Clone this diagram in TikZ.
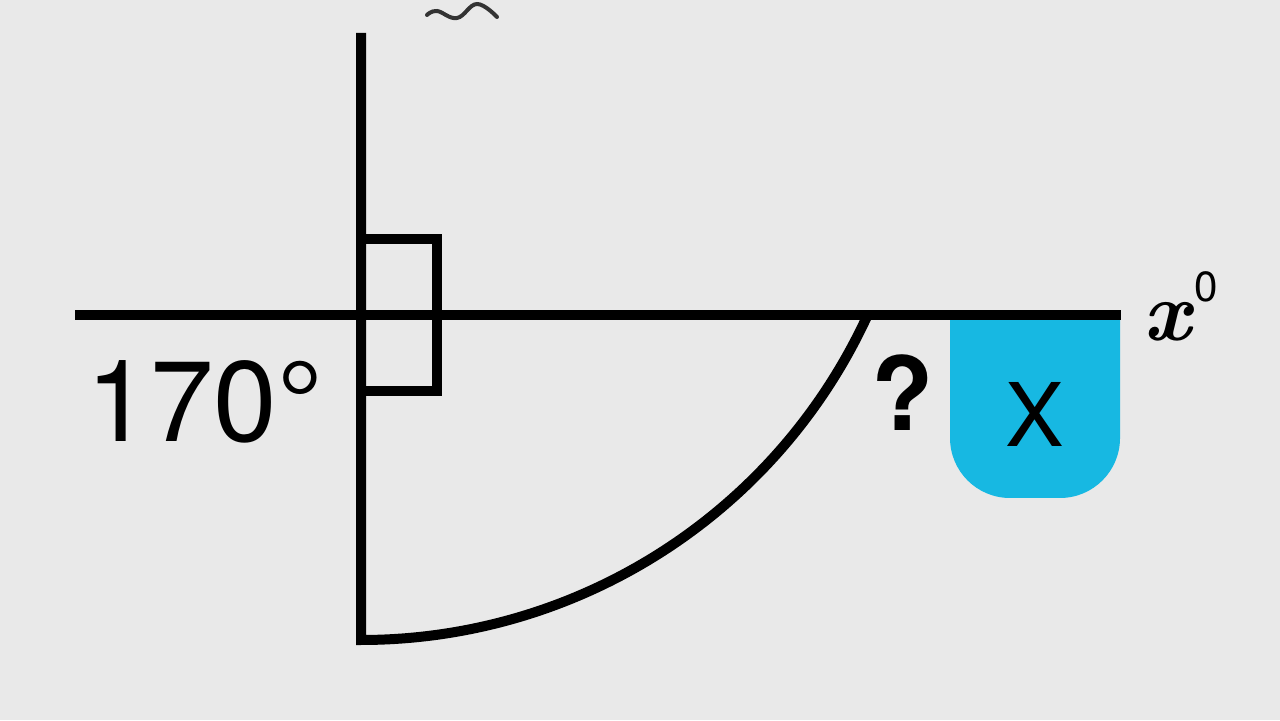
\documentclass[tikz,border=0pt]{standalone}
\usepackage{fontspec}
\setmainfont{TeX Gyre Heros}
\newfontfamily\handfont{Latin Modern Roman}
\usepackage{xcolor}
\usetikzlibrary{positioning,calc}
\definecolor{paper}{HTML}{E9E9E9}
\definecolor{answerblue}{RGB}{23,184,226}
\tikzset{
    figline/.style={line width=0.2cm, line join=miter},
    bigsans/.style={font=\fontsize{65}{70}\selectfont, inner sep=0pt}
}

\begin{document}
\begin{tikzpicture}[x=0.02cm, y=0.02cm]
    % Background
    \fill[paper] (0,0) rectangle (1280,720);
    \useasboundingbox (0,0) rectangle (1280,720);

    % Points of the figure
    \coordinate (top) at (361,687);
    \coordinate (corner) at (361,80);
    \coordinate (left) at (75,405);
    \coordinate (right) at (1121,405);

    % Answer box under the line
    \fill[answerblue] (950,405) -- (950,282) arc (180:270:60) -- (1060,222) arc (270:360:60) -- (1120,405) -- cycle;

    % Vertical line and the curved arc
    \draw[figline] (top) -- (corner) arc (270:335.2:557.5) coordinate (arcend);
    % Horizontal line
    \draw[figline] (left) -- (right);
    % Right angle marks
    \draw[figline] (361,481) -- (437,481) -- (437,329) -- (361,329);

    % Labels
    \node[bigsans] (angle) at (205,318) {170°};
    \node[bigsans, font=\bfseries\fontsize{58}{64}\selectfont] (ask) at (903,327) {?};
    \node[bigsans, font=\fontsize{50}{54}\selectfont] (unknown) at (1035,306) {X};
    \node[inner sep=0pt, anchor=base west, font=\handfont\bfseries\itshape\fontsize{48}{54}\selectfont] (xdeg) at (1143,379) {x};
    \node[inner sep=0pt, anchor=south west, font=\fontsize{24}{28}\selectfont] (xsup) at ([xshift=2]xdeg.north east) {0};

    % Tilde at the top
    \draw[line width=0.08cm, line cap=round, black!80] plot[smooth, tension=0.7] coordinates {(427,705) (437,709) (457,702) (477,716) (497,703)};
\end{tikzpicture}
\end{document}
